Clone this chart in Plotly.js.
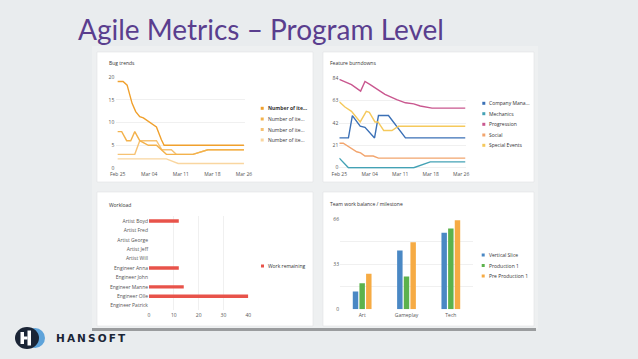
<!DOCTYPE html>
<html><head><meta charset="utf-8">
<script src="https://cdn.plot.ly/plotly-3.0.1.min.js"></script>
<style>html,body{margin:0;padding:0;background:#e9ecee;}#chart{width:638px;height:359px;}</style>
</head><body><div id="chart"></div>
<script>
// ---------- DATA ----------
const dateTickVals = [0, 7, 14, 21, 28];
const dateTickText = ['Feb 25', 'Mar 04', 'Mar 11', 'Mar 18', 'Mar 26'];

// Bug trends (days since Feb 25, number of items)
const bugNames = ['Number of ite...', 'Number of ite...', 'Number of ite...', 'Number of ite...'];
const bugColors = ['#f0a02c', '#f3b24c', '#f6c273', '#f9d6a0'];
const bug1Days = [0, 1.2, 2.1, 2.7, 3.2, 4, 4.9, 5.7, 7.1, 8.6, 9.7, 10.3, 28];
const bug1Vals = [19, 19, 18.2, 15.7, 14.2, 12.4, 11.3, 11, 10, 9, 6.2, 5, 5];
const bug2Days = [0, 0.9, 2, 2.9, 3.8, 4.9, 6.8, 8.6, 10.8, 16.7, 20, 28];
const bug2Vals = [8, 8, 6, 6, 8, 6, 5, 5, 3, 3, 4, 4];
const bug3Days = [0, 3.8, 4.9, 8.6, 9.8, 11.9, 13, 16.7, 20, 28];
const bug3Vals = [3, 3, 6, 6, 4, 4, 3, 3, 4, 4];
const bug4Days = [0, 10.8, 13.4, 28];
const bug4Vals = [2, 2, 1, 1];

// Feature burndowns
const featNames = ['Company Mana...', 'Mechanics', 'Progression', 'Social', 'Special Events'];
const featColors = ['#3b70b6', '#44a2b5', '#c9578f', '#f2a56e', '#f5c95c'];
const compDays = [0, 2.1, 3, 4.8, 5.9, 8.1, 9, 11.3, 15.2, 29];
const compVals = [28, 28, 49, 39, 38, 28, 49, 49, 28, 28];
const mechDays = [0, 2.1, 17.1, 20.9, 29];
const mechVals = [9, 0, 0, 5.5, 5.5];
const progDays = [0, 2.8, 4.9, 5.9, 7.1, 9, 10.5, 13.2, 14, 15.2, 17.1, 18.6, 21.3, 29];
const progVals = [83, 78, 72, 81, 78, 73, 69, 64, 63, 61, 60, 58, 56, 56];
const socDays = [0, 0.9, 4, 4.9, 5.9, 7.8, 9, 29];
const socVals = [23, 23, 15, 14, 11, 11, 9, 9];
const specDays = [0, 1.3, 2.8, 4.8, 6.2, 6.9, 8.2, 8.9, 10.2, 12.1, 13.6, 29];
const specVals = [62, 57, 53, 43, 53, 52, 43, 43, 35, 35, 39, 39];

// Workload
const workPeople = ['Artist Boyd', 'Artist Fred', 'Artist George', 'Artist Jeff', 'Artist Will',
  'Engineer Anna', 'Engineer John', 'Engineer Manne', 'Engineer Olle', 'Engineer Patrick'];
const workRemaining = [12, 0, 0, 0, 0, 12, 0, 14, 40, 0];
const workName = 'Work remaining';
const workColor = '#e8534a';

// Team work balance / milestone
const teams = ['Art', 'Gameplay', 'Tech'];
const milestoneNames = ['Vertical Slice', 'Production 1', 'Pre Production 1'];
const milestoneColors = ['#4a88c4', '#5cb24c', '#f6ab44'];
const verticalSlice = [13, 43, 56];
const production1 = [19, 24, 59];
const preProduction1 = [26, 49, 65];

// ---------- HELPERS ----------
const W = 638, H = 359;
const px = x => x / W;
const py = y => 1 - y / H;
const FONT = 'Open Sans, Noto Sans, sans-serif';
const tickFont = {family: FONT, size: 5, color: '#555'};

const traces = [];
const bugSeries = [[bug1Days, bug1Vals], [bug2Days, bug2Vals], [bug3Days, bug3Vals], [bug4Days, bug4Vals]];
for (let i = bugSeries.length - 1; i >= 0; i--) {
  traces.push({type: 'scatter', mode: 'lines', x: bugSeries[i][0], y: bugSeries[i][1],
    line: {color: bugColors[i], width: 1.4}, xaxis: 'x', yaxis: 'y', name: bugNames[i], showlegend: false, hoverinfo: 'skip'});
}
const featSeries = [[compDays, compVals], [mechDays, mechVals], [progDays, progVals], [socDays, socVals], [specDays, specVals]];
featSeries.forEach((s, i) => traces.push({type: 'scatter', mode: 'lines', x: s[0], y: s[1],
  line: {color: featColors[i], width: 1.4}, xaxis: 'x2', yaxis: 'y2', name: featNames[i], showlegend: false, hoverinfo: 'skip'}));
traces.push({type: 'bar', orientation: 'h', x: workRemaining, y: workPeople, marker: {color: workColor},
  xaxis: 'x3', yaxis: 'y3', name: workName, showlegend: false, hoverinfo: 'skip'});
[verticalSlice, production1, preProduction1].forEach((v, i) => traces.push({type: 'bar', x: teams, y: v,
  marker: {color: milestoneColors[i]}, xaxis: 'x4', yaxis: 'y4', name: milestoneNames[i], showlegend: false, hoverinfo: 'skip'}));

// ---------- DECORATION ----------
const shapes = [];
function rect(x0, y0, x1, y1, fill, line, layer) {
  shapes.push({type: 'rect', xref: 'paper', yref: 'paper', x0: px(x0), x1: px(x1), y0: py(y1), y1: py(y0),
    fillcolor: fill, line: line || {width: 0}, layer: layer || 'below'});
}
rect(92, 46, 538, 329, '#eef0f1');
rect(92, 328, 536, 331, '#9a9c9e');
rect(97, 52, 313, 182, '#ffffff', {color: '#e1e3e4', width: 0.6});
rect(323, 52, 534, 182, '#ffffff', {color: '#e1e3e4', width: 0.6});
rect(97, 192, 313, 326, '#ffffff', {color: '#e1e3e4', width: 0.6});
rect(323, 192, 534, 326, '#ffffff', {color: '#e1e3e4', width: 0.6});

const annotations = [];
function txt(x, y, text, opts) {
  annotations.push(Object.assign({xref: 'paper', yref: 'paper', x: px(x), y: py(y), text: text, showarrow: false,
    xanchor: 'left', yanchor: 'middle', font: {family: FONT, size: 5, color: '#333'}}, opts || {}));
}
txt(76, 29, 'Agile Metrics – Program Level', {font: {family: 'Lato, sans-serif', size: 28, color: '#5a3e8e', weight: 400}});
txt(107, 63, 'Bug trends');
txt(328, 63, 'Feature burndowns');
txt(107, 205, 'Workload');
txt(328, 204, 'Team work balance / milestone');

function legend(mx, tx, rows, names, colors, boldFirst) {
  names.forEach((n, i) => {
    shapes.push({type: 'rect', xref: 'paper', yref: 'paper', x0: px(mx), x1: px(mx + 3), y0: py(rows[i] + 1.5), y1: py(rows[i] - 1.5),
      fillcolor: colors[i], line: {width: 0}, layer: 'above'});
    txt(tx, rows[i], (boldFirst && i === 0) ? '<b>' + n + '</b>' : n);
  });
}
legend(260.7, 265.7, [108.3, 119, 129.5, 140], bugNames, bugColors, true);
legend(482.3, 486.7, [103.3, 113.7, 124.3, 135, 145.3], featNames, featColors, false);
legend(261, 265.7, [266], [workName], [workColor], false);
legend(481.7, 486.7, [255, 265.5, 276], milestoneNames, milestoneColors, false);

// logo
shapes.push({type: 'circle', xref: 'paper', yref: 'paper', x0: px(25), x1: px(45), y0: py(348), y1: py(328), fillcolor: '#5ea3da', line: {width: 0}, layer: 'below'});
shapes.push({type: 'circle', xref: 'paper', yref: 'paper', x0: px(15), x1: px(39), y0: py(349), y1: py(327), fillcolor: '#1b2536', line: {width: 0}, layer: 'below'});
rect(20.5, 332, 24, 344, '#ffffff', null, 'above');
rect(27.5, 330.5, 31, 345.5, '#ffffff', null, 'above');
rect(24, 336.5, 27.5, 339.5, '#ffffff', null, 'above');
txt(54, 337.5, 'H\u2009A\u2009N\u2009S\u2009O\u2009F\u2009T', {font: {family: 'DejaVu Sans, sans-serif', size: 10.5, color: '#1b2536', weight: 'bold'}});

const axBase = {showline: false, zeroline: false, ticks: '', tickfont: tickFont, fixedrange: true, gridcolor: '#ececec', gridwidth: 0.8};
const layout = {
  width: W, height: H, margin: {l: 0, r: 0, t: 0, b: 0},
  paper_bgcolor: '#e9ecee', plot_bgcolor: 'rgba(0,0,0,0)',
  showlegend: false, barmode: 'group', bargap: 0.55, bargroupgap: 0.18,
  xaxis: Object.assign({}, axBase, {domain: [px(116.3), px(245.3)], range: [-0.3, 28.3], tickvals: dateTickVals, ticktext: dateTickText, showgrid: false, anchor: 'y', ticklabelstandoff: 2}),
  yaxis: Object.assign({}, axBase, {domain: [py(168), py(77)], range: [0, 20], tickvals: [0, 5, 10, 15, 20], showgrid: true, anchor: 'x', ticklabelstandoff: 1}),
  xaxis2: Object.assign({}, axBase, {domain: [px(339.3), px(465.5)], range: [0, 29], tickvals: dateTickVals, ticktext: dateTickText, showgrid: false, anchor: 'y2', ticklabelstandoff: 1}),
  yaxis2: Object.assign({}, axBase, {domain: [py(168.8), py(78.3)], range: [-1, 84], tickvals: [0, 21, 42, 63, 84], showgrid: true, anchor: 'x2'}),
  xaxis3: Object.assign({}, axBase, {domain: [px(149), px(248.3)], range: [0, 40], tickvals: [0, 10, 20, 30, 40], showgrid: true, anchor: 'y3', ticklabelstandoff: 1}),
  yaxis3: Object.assign({}, axBase, {domain: [py(310.4), py(216.3)], type: 'category', categoryorder: 'array', categoryarray: workPeople, range: [9.5, -0.5], showgrid: false, anchor: 'x3'}),
  xaxis4: Object.assign({}, axBase, {domain: [px(340), px(473)], type: 'category', range: [-0.5, 2.5], showgrid: false, anchor: 'y4', ticklabelstandoff: 2}),
  yaxis4: Object.assign({}, axBase, {domain: [py(309.3), py(219)], range: [0, 66], tickvals: [0, 16.5, 33, 49.5, 66], ticktext: ['0', '', '33', '', '66'], showgrid: true, anchor: 'x4'}),
  shapes: shapes, annotations: annotations
};
Plotly.newPlot('chart', traces, layout, {staticPlot: true, displayModeBar: false});
</script></body></html>
